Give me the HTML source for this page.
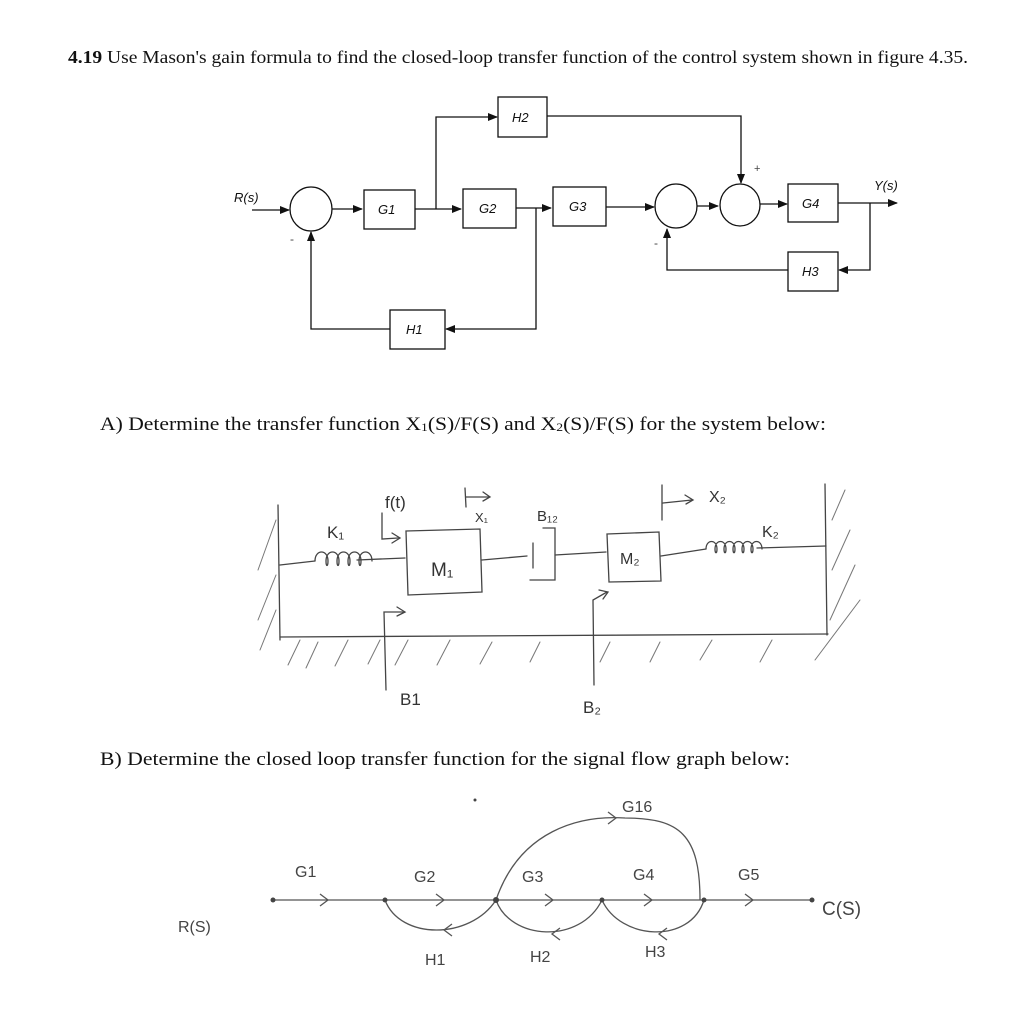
<!DOCTYPE html>
<html><head><style>
html,body{margin:0;padding:0;background:#fff;}
svg{display:block;}
.s{font-family:"Liberation Serif",serif;fill:#111;}
.a{font-family:"Liberation Sans",sans-serif;font-style:italic;fill:#111;font-size:13px;}
.h{font-family:"Liberation Sans",sans-serif;fill:#444;}
</style></head><body>
<svg width="1024" height="1015" viewBox="0 0 1024 1015" xmlns="http://www.w3.org/2000/svg">
<defs>
<marker id="ar" markerWidth="10" markerHeight="8" refX="9" refY="4" orient="auto" markerUnits="userSpaceOnUse">
<path d="M0,0 L10,4 L0,8 z" fill="#111"/></marker>
</defs>
<text x="68" y="63" class="s" font-size="18" textLength="900" lengthAdjust="spacingAndGlyphs"><tspan font-weight="bold">4.19</tspan> Use Mason's gain formula to find the closed-loop transfer function of the control system shown in figure 4.35.</text>

<g stroke="#111" stroke-width="1.3" fill="none">
<line x1="252" y1="210" x2="289" y2="210" marker-end="url(#ar)"/>
<ellipse cx="311" cy="209" rx="21" ry="22"/>
<line x1="332" y1="209" x2="362" y2="209" marker-end="url(#ar)"/>
<rect x="364" y="190" width="51" height="39"/>
<line x1="415" y1="209" x2="461" y2="209" marker-end="url(#ar)"/>
<rect x="463" y="189" width="53" height="39"/>
<line x1="516" y1="208" x2="551" y2="208" marker-end="url(#ar)"/>
<rect x="553" y="187" width="53" height="39"/>
<line x1="606" y1="207" x2="654" y2="207" marker-end="url(#ar)"/>
<ellipse cx="676" cy="206" rx="21" ry="22"/>
<line x1="697" y1="206" x2="718" y2="206" marker-end="url(#ar)"/>
<ellipse cx="740" cy="205" rx="20" ry="21"/>
<line x1="760" y1="204" x2="787" y2="204" marker-end="url(#ar)"/>
<rect x="788" y="184" width="50" height="38"/>
<line x1="838" y1="203" x2="897" y2="203" marker-end="url(#ar)"/>
<polyline points="436,209 436,117 497,117" marker-end="url(#ar)"/>
<rect x="498" y="97" width="49" height="40"/>
<polyline points="547,116 741,116 741,183" marker-end="url(#ar)"/>
<polyline points="870,203 870,270 839,270" marker-end="url(#ar)"/>
<rect x="788" y="252" width="50" height="39"/>
<polyline points="788,270 667,270 667,229" marker-end="url(#ar)"/>
<polyline points="536,208 536,329 446,329" marker-end="url(#ar)"/>
<rect x="390" y="310" width="55" height="39"/>
<polyline points="390,329 311,329 311,232" marker-end="url(#ar)"/>
</g>
<text x="234" y="202" class="a">R(s)</text>
<text x="378" y="214" class="a">G1</text>
<text x="479" y="213" class="a">G2</text>
<text x="569" y="211" class="a">G3</text>
<text x="512" y="122" class="a">H2</text>
<text x="802" y="208" class="a">G4</text>
<text x="802" y="276" class="a">H3</text>
<text x="406" y="334" class="a">H1</text>
<text x="874" y="190" class="a">Y(s)</text>
<text x="754" y="172" class="h" font-size="11">+</text>
<text x="290" y="243" class="h" font-size="12">-</text>
<text x="654" y="247" class="h" font-size="12">-</text>

<text x="100" y="430" class="s" font-size="19" textLength="726" lengthAdjust="spacingAndGlyphs">A) Determine the transfer function X<tspan font-size="12" dy="1">1</tspan><tspan dy="-1">(S)/F(S) and X</tspan><tspan font-size="12" dy="1">2</tspan><tspan dy="-1">(S)/F(S) for the system below:</tspan></text>

<g stroke="#444" stroke-width="1.3" fill="none" stroke-linecap="round">
<line x1="278" y1="505" x2="280" y2="640"/>
<line x1="280" y1="637" x2="828" y2="634"/>
<line x1="825" y1="484" x2="827" y2="635"/>
<line x1="280" y1="565" x2="315" y2="561"/>
<path d="M315,561 c0,-12 13,-12 13,0 c0,6 -2,6 -2,0 c0,-12 13,-12 13,0 c0,6 -2,6 -2,0 c0,-12 13,-12 13,0 c0,6 -2,6 -2,0 c0,-12 13,-12 13,0 c0,6 -2,6 -2,0 c0,-12 13,-12 13,0"/>
<line x1="357" y1="560" x2="405" y2="558"/>
<path d="M406,531 L480,529 L482,592 L408,595 Z"/>
<line x1="482" y1="560" x2="527" y2="556"/>
<path d="M543,528 L555,528 L555,580 L530,580"/>
<line x1="533" y1="543" x2="533" y2="568"/>
<line x1="555" y1="555" x2="606" y2="552"/>
<path d="M607,534 L659,532 L661,581 L609,582 Z"/>
<line x1="661" y1="556" x2="706" y2="549"/>
<path d="M706,549 c0,-10 11,-10 11,0 c0,5 -2,5 -2,0 c0,-10 11,-10 11,0 c0,5 -2,5 -2,0 c0,-10 11,-10 11,0 c0,5 -2,5 -2,0 c0,-10 11,-10 11,0 c0,5 -2,5 -2,0 c0,-10 11,-10 11,0 c0,5 -2,5 -2,0 c0,-10 11,-10 11,0"/>
<line x1="757" y1="548" x2="826" y2="546"/>
<polyline points="382,513 382,539 398,538"/><path d="M392,533 L400,538 L392,543"/>
<polyline points="386,690 384,612 403,612"/><path d="M397,607 L405,612 L397,616"/>
<polyline points="594,685 593,600 607,592"/><path d="M599,590 L608,592 L603,599"/>
<line x1="465" y1="488" x2="466" y2="507"/><line x1="466" y1="497" x2="489" y2="497"/><path d="M483,492 L490,497 L483,501"/>
<line x1="662" y1="485" x2="662" y2="520"/><line x1="663" y1="503" x2="692" y2="500"/><path d="M685,495 L693,500 L686,504"/>
<g stroke="#777" stroke-width="1">
<line x1="258" y1="570" x2="276" y2="520"/><line x1="258" y1="620" x2="276" y2="575"/><line x1="260" y1="650" x2="276" y2="610"/>
<line x1="288" y1="665" x2="300" y2="640"/><line x1="306" y1="668" x2="318" y2="642"/><line x1="335" y1="666" x2="348" y2="640"/><line x1="368" y1="664" x2="380" y2="640"/><line x1="395" y1="665" x2="408" y2="640"/><line x1="437" y1="665" x2="450" y2="640"/><line x1="480" y1="664" x2="492" y2="642"/><line x1="530" y1="662" x2="540" y2="642"/><line x1="600" y1="662" x2="610" y2="642"/><line x1="650" y1="662" x2="660" y2="642"/><line x1="700" y1="660" x2="712" y2="640"/><line x1="760" y1="662" x2="772" y2="640"/>
<line x1="832" y1="520" x2="845" y2="490"/><line x1="832" y1="570" x2="850" y2="530"/><line x1="830" y1="620" x2="855" y2="565"/><line x1="815" y1="660" x2="860" y2="600"/>
</g>
</g>
<g font-family="'Liberation Sans',sans-serif" fill="#333">
<text x="327" y="538" font-size="17">K₁</text>
<text x="385" y="508" font-size="17">f(t)</text>
<text x="475" y="522" font-size="13">X₁</text>
<text x="537" y="521" font-size="15">B₁₂</text>
<text x="431" y="576" font-size="19">M₁</text>
<text x="620" y="564" font-size="16">M₂</text>
<text x="709" y="502" font-size="16">X₂</text>
<text x="762" y="537" font-size="16">K₂</text>
<text x="400" y="705" font-size="17">B1</text>
<text x="583" y="713" font-size="17">B₂</text>
</g>

<text x="100" y="765" class="s" font-size="19" textLength="690" lengthAdjust="spacingAndGlyphs">B) Determine the closed loop transfer function for the signal flow graph below:</text>

<g stroke="#555" stroke-width="1.3" fill="none">
<line x1="273" y1="900" x2="812" y2="900"/>
<path d="M496,900 C520,830 580,815 625,818 C680,818 700,835 700,900"/>
<path d="M385,900 C400,940 470,940 496,900"/>
<path d="M496,900 C510,940 580,945 602,900"/>
<path d="M602,900 C620,940 690,945 704,900"/>
<path d="M320,894 L328,900 L320,906"/><path d="M436,894 L444,900 L436,906"/><path d="M545,894 L553,900 L545,906"/><path d="M644,894 L652,900 L644,906"/><path d="M745,894 L753,900 L745,906"/>
<path d="M608,812 L616,818 L608,824"/>
<path d="M452,924 L444,930 L452,936"/><path d="M560,928 L552,934 L560,940"/><path d="M667,928 L659,934 L667,940"/>
</g>
<g fill="#444"><circle cx="273" cy="900" r="2.5"/><circle cx="385" cy="900" r="2.5"/><circle cx="496" cy="900" r="3"/><circle cx="602" cy="900" r="2.5"/><circle cx="704" cy="900" r="2.5"/><circle cx="812" cy="900" r="2.5"/><circle cx="475" cy="800" r="1.5"/></g>
<g font-family="'Liberation Sans',sans-serif" fill="#444" font-size="16">
<text x="295" y="877">G1</text><text x="414" y="882">G2</text><text x="522" y="882">G3</text><text x="633" y="880">G4</text><text x="738" y="880">G5</text><text x="622" y="812">G16</text>
<text x="178" y="932">R(S)</text><text x="822" y="915" font-size="19">C(S)</text>
<text x="425" y="965">H1</text><text x="530" y="962">H2</text><text x="645" y="957">H3</text>
</g>
</svg>
</body></html>
